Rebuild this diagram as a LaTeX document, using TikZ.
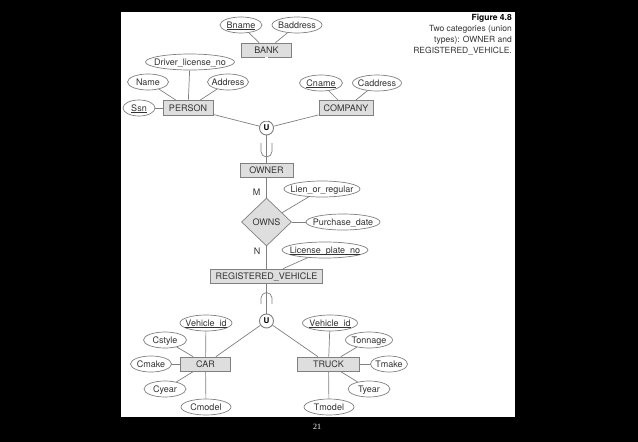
\documentclass[tikz,border=0pt]{standalone}
\usepackage{fontspec}
\setmainfont{TeX Gyre Heros}
\newfontfamily\pagenumfont{Liberation Serif}
\usetikzlibrary{shapes.geometric}

\definecolor{erline}{gray}{0.5}
\definecolor{erfill}{gray}{0.87}
\definecolor{ertext}{gray}{0.2}

\newcommand{\keyattr}[1]{\underline{\smash{#1}}}

\tikzset{
  erfont/.style={font=\fontsize{9}{11}\selectfont, text=ertext},
  entity/.style={draw=erline, fill=erfill, line width=0.7pt, minimum width=#1, minimum height=14pt, inner sep=0pt, text height=6.6pt, text depth=0.4pt, erfont},
  attrib/.style={ellipse, draw=erline, fill=white, line width=0.7pt, minimum width=#1, minimum height=16pt, inner xsep=-8pt, inner ysep=0pt, text height=6.6pt, text depth=0.4pt, erfont},
  relship/.style={diamond, draw=erline, fill=erfill, line width=0.7pt, minimum width=50pt, minimum height=48pt, inner sep=0pt, erfont},
  unionop/.style={circle, draw=erline, fill=white, line width=0.9pt, minimum size=14pt, inner sep=0pt, font=\fontsize{8}{8}\selectfont\bfseries},
  link/.style={draw=erline, line width=0.7pt},
}

\begin{document}
\begin{tikzpicture}[x=1pt, y=-1pt]
  \useasboundingbox (0,0) rectangle (638,442);
  \fill [black] (0,0) rectangle (638,442);
  \fill [white] (121,12) rectangle (515,417);

  \node (caption) [anchor=north east, align=right, inner sep=0pt, text=ertext, font=\fontsize{8.5}{11}\selectfont] at (512,14)
    {\textcolor{black}{\textbf{Figure 4.8}}\\Two categories (union\\types): OWNER and\\REGISTERED\_VEHICLE.};
  \node (pagenum) [text=white, font=\pagenumfont\fontsize{8}{8}\selectfont] at (317,427) {21};

  \node (bank) [entity=50pt] at (266.5,50) {BANK};
  \node (bname) [attrib=42pt] at (241,25) {\keyattr{Bname}};
  \node (baddress) [attrib=50pt] at (297,25) {Baddress};

  \node (person) [entity=50pt, minimum height=15pt] at (188,108) {PERSON};
  \node (driverlic) [attrib=89pt] at (190,62) {Driver\_license\_no};
  \node (name) [attrib=41pt] at (148,82) {Name};
  \node (address) [attrib=41pt] at (228,82) {Address};
  \node (ssn) [attrib=32pt] at (139,108) {\keyattr{Ssn}};

  \node (company) [entity=54pt, minimum height=15pt] at (346,108) {COMPANY};
  \node (cname) [attrib=43pt] at (321,83) {\keyattr{Cname}};
  \node (caddress) [attrib=49pt] at (377,83) {Caddress};

  \node (u1) [unionop] at (266.5,128) {U};
  \node (owner) [entity=53pt] at (266.5,170) {OWNER};
  \node (owns) [relship] at (266.5,222) {OWNS};
  \node (lien) [attrib=76pt] at (322,189) {Lien\_or\_regular};
  \node (purchase) [attrib=74pt] at (343,222) {Purchase\_date};
  \node (licplate) [attrib=86pt] at (325,250) {\keyattr{License\_plate\_no}};
  \node (regveh) [entity=112pt] at (266.5,276) {REGISTERED\_VEHICLE};
  \node (u2) [unionop] at (266.5,321) {U};

  \node (car) [entity=50pt] at (205.5,364) {CAR};
  \node (vidcar) [attrib=52pt] at (206,323) {\keyattr{Vehicle\_id}};
  \node (cstyle) [attrib=43pt] at (165,340) {Cstyle};
  \node (cmake) [attrib=41pt] at (151,364) {Cmake};
  \node (cyear) [attrib=42pt] at (165,389) {Cyear};
  \node (cmodel) [attrib=50pt] at (206,407) {Cmodel};

  \node (truck) [entity=62pt] at (328.5,364) {TRUCK};
  \node (vidtruck) [attrib=55pt] at (330,323) {\keyattr{Vehicle\_id}};
  \node (tonnage) [attrib=47pt] at (369,340) {Tonnage};
  \node (tmake) [attrib=37pt] at (389,364) {Tmake};
  \node (tyear) [attrib=42pt] at (369,389) {Tyear};
  \node (tmodel) [attrib=50pt] at (329,407) {Tmodel};

  \path [link]
    (bname) edge (bank)
    (baddress) edge (bank)
    (bank) edge [double, double distance=2.5pt] (u1)
    (driverlic) edge (person)
    (name) edge (person)
    (address) edge (person)
    (ssn) edge (person)
    (cname) edge (company)
    (caddress) edge (company)
    (person) edge (u1)
    (company) edge (u1)
    (u1) edge (owner)
    (owner) edge node [erfont, left, pos=0.75, xshift=-2.5pt] {M} (owns)
    (owns) edge (lien)
    (owns) edge (purchase)
    (owns) edge node [erfont, left, pos=0.2, xshift=-2.5pt] {N} (regveh)
    (licplate) edge (regveh)
    (regveh) edge (u2)
    (u2) edge (car)
    (u2) edge (truck)
    (vidcar) edge (car)
    (cstyle) edge (car)
    (cmake) edge (car)
    (cyear) edge (car)
    (cmodel) edge (car)
    (vidtruck) edge (truck)
    (tonnage) edge (truck)
    (tmake) edge (truck)
    (tyear) edge (truck)
    (tmodel) edge (truck);

  \draw [link] (261,143) -- (261,151.5) arc [start angle=180, end angle=360, radius=5.5pt] -- (272,143);
  \draw [link] (261,304) -- (261,298) arc [start angle=180, end angle=0, radius=5.5pt] -- (272,304);
\end{tikzpicture}
\end{document}
